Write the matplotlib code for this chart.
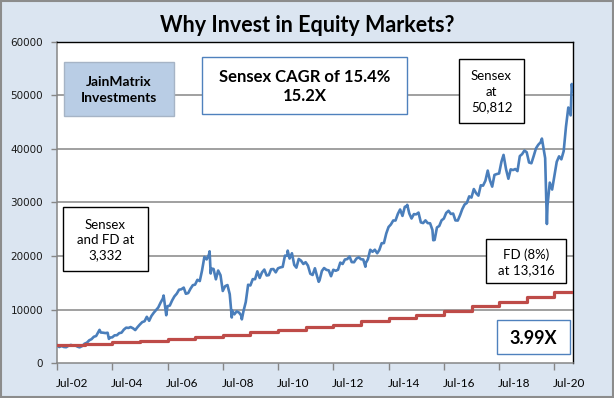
import matplotlib
matplotlib.use('Agg')

import numpy as np
import pandas as pd
import matplotlib.pyplot as plt
from matplotlib.patches import Rectangle
from matplotlib.transforms import ScaledTranslation

# Sensex month-end closes, Jul-2002 .. Jan-2021
sensex_monthly = [
    2988, 3181, 2991, 2950, 3229, 3377,
    3250, 3283, 3049, 2960, 3180, 3607, 3792, 4244, 4453, 4906, 5044, 5839,
    5696, 5667, 5591, 5655, 4760, 4795, 5170, 5192, 5584, 5672, 6234, 6603,
    6556, 6714, 6493, 6154, 6715, 7194, 7635, 7805, 8634, 7892, 8789, 9398,
    9920, 10370, 11280, 12043, 10399, 10609, 10744, 11699, 12454, 12962, 13696, 13787,
    14091, 12938, 13072, 13872, 14544, 14651, 15551, 15319, 17291, 19838, 19363, 20287,
    17649, 17579, 15644, 17287, 16416, 13462, 14356, 14565, 12860, 9788, 9093, 9647,
    9424, 8892, 9709, 11403, 14625, 14494, 15670, 15667, 17127, 15896, 16926, 17465,
    16358, 16430, 17528, 17559, 16945, 17701, 17868, 17971, 20069, 20032, 19521, 20509,
    18328, 17823, 19445, 19136, 18503, 18846, 18197, 16677, 16454, 17705, 16123, 15455,
    17194, 17753, 17404, 17319, 16219, 17430, 17236, 17430, 18763, 18505, 19340, 19427,
    19895, 18862, 18836, 19504, 19760, 19396, 19346, 18620, 19380, 21165, 20792, 21171,
    20514, 21120, 22386, 22418, 24217, 25414, 25895, 26638, 26631, 27866, 28694, 27499,
    29183, 29362, 27957, 27011, 27828, 27781, 28115, 26283, 26155, 26657, 26146, 26118,
    24871, 23002, 25342, 25607, 26668, 26999, 28052, 28452, 27866, 27930, 26653, 26626,
    27656, 28743, 29621, 29918, 31146, 30922, 32515, 31730, 31284, 33213, 33149, 34057,
    35965, 34184, 32969, 35160, 35322, 35423, 37607, 38645, 36227, 34442, 36194, 36068,
    36257, 35867, 38673, 39032, 39714, 39395, 37481, 37333, 38667, 40129, 40794, 41254,
    40723, 38297, 29468, 33718, 32424, 34916, 37607, 38628, 38068, 39614, 44150, 47751,
    46286,
]

# start point, intra-month extremes and the last points
sensex_extra_dates = ['2002-07-01', '2003-04-25', '2004-01-14', '2004-05-17',
                      '2006-05-10', '2006-06-14', '2008-01-08', '2008-01-22',
                      '2008-10-27', '2009-03-09', '2010-11-05', '2011-12-20',
                      '2013-08-28', '2015-03-04', '2016-02-11', '2018-08-28',
                      '2020-01-17', '2020-03-23', '2021-02-15', '2021-02-26']
sensex_extra_vals = [3332, 2924, 6194, 4505,
                     12612, 8929, 20873, 16730,
                     8509, 8160, 21005, 15175,
                     17996, 29560, 22951, 38896,
                     41945, 25981, 52154, 50812]

# FD at 8%, reset every July
fd_years = [2002, 2003, 2004, 2005, 2006, 2007, 2008, 2009, 2010, 2011,
            2012, 2013, 2014, 2015, 2016, 2017, 2018, 2019, 2020]
fd_vals = [3332, 3599, 3886, 4197, 4533, 4896, 5288, 5710, 6167, 6661,
           7194, 7769, 8391, 9062, 9787, 10570, 11415, 12328, 13316]

tick_years = [2002, 2004, 2006, 2008, 2010, 2012, 2014, 2016, 2018, 2020]
tick_labels = ['Jul-02', 'Jul-04', 'Jul-06', 'Jul-08', 'Jul-10',
               'Jul-12', 'Jul-14', 'Jul-16', 'Jul-18', 'Jul-20']

#build the series
s1 = pd.Series(sensex_monthly,
               index=pd.date_range('2002-07-31', periods=len(sensex_monthly), freq='ME'))
s2 = pd.Series(sensex_extra_vals, index=pd.to_datetime(sensex_extra_dates))
sensex = pd.concat([s1, s2]).sort_index()
end_date = sensex.index[-1]

fd_dates = [pd.Timestamp(str(y) + '-07-01') for y in fd_years] + [end_date]
fd_plot = fd_vals + [fd_vals[-1]]

blue = '#4A7EBB'
red = '#BE4B48'
bg = '#DBE5F1'

fig = plt.figure(figsize=(6.14, 3.98), dpi=100, facecolor=bg)
W, H = 614, 398
ax = fig.add_axes([57/W, 1-363/H, 516/W, 321/H])

ax.plot(sensex.index, sensex.values, color=blue, lw=1.9, zorder=3)
ax.plot(fd_dates, fd_plot, color=red, lw=2.3, drawstyle='steps-post', zorder=4)

ax.set_xlim(pd.Timestamp('2002-07-01'), pd.Timestamp('2021-03-03'))
ax.set_ylim(0, 60000)
ax.set_yticks(np.arange(0, 60001, 10000))
ax.yaxis.set_major_formatter(matplotlib.ticker.FuncFormatter(lambda v, p: '%d' % v))
ax.set_xticks([pd.Timestamp(str(y) + '-07-01') for y in tick_years])
ax.set_xticklabels(tick_labels)

for y in range(10000, 60000, 10000):
    ax.axhline(y, color='#868686', lw=1.1, zorder=1)

for side in ['left', 'bottom']:
    ax.spines[side].set_color('#868686')
    ax.spines[side].set_linewidth(1.1)
for side in ['top', 'right']:
    ax.spines[side].set_color('black')
    ax.spines[side].set_linewidth(1.0)

ax.tick_params(axis='y', length=4, width=1, color='#868686', pad=6,
               labelsize=7.5, labelcolor='#1a1a1a')
ax.tick_params(axis='x', length=5, width=1, color='#868686', pad=6,
               labelsize=8.5)
for lab in ax.get_xticklabels():
    lab.set_fontfamily('Lato')
    lab.set_transform(lab.get_transform() + ScaledTranslation(0.15, 0, fig.dpi_scale_trans))

# overlay in pixel coordinates for the text boxes
ov = fig.add_axes([0, 0, 1, 1], zorder=5)
ov.set_xlim(0, W)
ov.set_ylim(H, 0)
ov.axis('off')
ov.patch.set_alpha(0)

def box(x0, y0, x1, y1, text, size, bold=False, fc='white', ec='black', ls=1.15):
    ov.add_patch(Rectangle((x0, y0), x1-x0, y1-y0, facecolor=fc, edgecolor=ec, lw=1.0))
    ov.text((x0+x1)/2, (y0+y1)/2 + 1, text, ha='center', va='center', fontsize=size,
            fontfamily='Lato', fontweight='bold' if bold else 'normal', linespacing=ls)

box(64, 62, 174, 116, 'JainMatrix\nInvestments', 10, bold=True, fc='#B9CDE5', ec='#A6B4C6', ls=1.4)
box(202, 57, 407, 114, 'Sensex CAGR of 15.4%\n15.2X', 12, bold=True, ec='#4F81BD', ls=1.3)
box(459, 59, 524, 123, 'Sensex\nat\n50,812', 9.5, ls=1.35)
box(63, 207, 148, 271, 'Sensex\nand FD at\n3,332', 9.5, ls=1.3)
box(486, 239, 566, 283, 'FD (8%)\nat 13,316', 9.5, ls=1.3)
box(497, 320, 570, 354, '3.99X', 13, bold=True, ec='#4F81BD')

fig.text(307/W, 1-32/H, 'Why Invest in Equity Markets?', ha='center', va='baseline',
         fontsize=15.5, fontweight='bold', fontfamily='Lato')

# outer border
fig.add_artist(Rectangle((0.001, 0.002), 0.997, 0.996, transform=fig.transFigure,
                         fill=False, edgecolor='#8C8C8C', lw=1.5))

plt.savefig('out.png', dpi=100, facecolor=bg)
